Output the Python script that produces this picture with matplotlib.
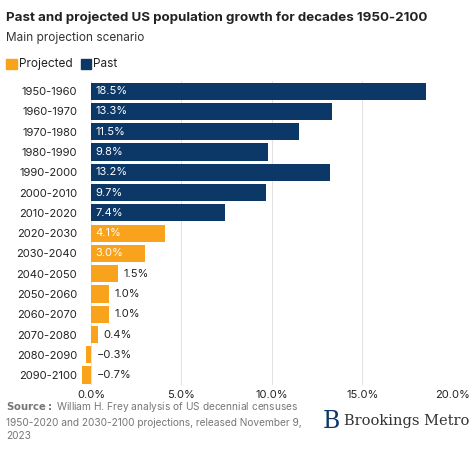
import matplotlib.pyplot as plt
from matplotlib.ticker import FuncFormatter

decades = ["1950-1960", "1960-1970", "1970-1980", "1980-1990", "1990-2000", "2000-2010",
           "2010-2020", "2020-2030", "2030-2040", "2040-2050", "2050-2060", "2060-2070",
           "2070-2080", "2080-2090", "2090-2100"]
growth = [18.5, 13.3, 11.5, 9.8, 13.2, 9.7, 7.4, 4.1, 3.0, 1.5, 1.0, 1.0, 0.4, -0.3, -0.7]
kind = ["Past"] * 7 + ["Projected"] * 8

NAVY = "#0b3866"
ORANGE = "#f9a21b"
TEXT = "#222222"

plt.rcParams["font.family"] = ["Inter", "DejaVu Sans"]
fig = plt.figure(figsize=(4.74, 4.63), dpi=100)
ax = fig.add_axes([0.173, 0.168, 0.782, 0.657])

ypos = list(range(len(decades)))
colors = [NAVY if k == "Past" else ORANGE for k in kind]
ax.barh(ypos, growth, height=0.85, color=colors)
for y, v in zip(ypos, growth):
    label = f"{v:.1f}%" if v >= 0 else f"\u2212{abs(v):.1f}%"
    if v >= 2.5:
        ax.text(0.25, y, label, va="center", ha="left", color="white", fontsize=8)
    else:
        ax.text(max(v, 0) + 0.3, y, label, va="center", ha="left", color=TEXT, fontsize=8)

ax.set_yticks(ypos)
ax.set_yticklabels(decades, fontsize=8, color=TEXT)
ax.set_ylim(len(decades) - 0.5, -0.5)
ax.set_xlim(-0.5, 20)
ax.set_xticks([0, 5, 10, 15, 20])
ax.xaxis.set_major_formatter(FuncFormatter(lambda x, _: f"{x:.1f}%"))
ax.tick_params(axis="x", labelsize=8, colors=TEXT, length=0)
ax.tick_params(axis="y", length=0)
ax.grid(axis="x", color="#dddddd", linewidth=0.6)
ax.set_axisbelow(True)
for s in ax.spines.values():
    s.set_visible(False)

fig.text(0.013, 0.975, "Past and projected US population growth for decades 1950-2100",
         fontsize=9.6, fontweight="bold", color=TEXT, va="top")
fig.text(0.013, 0.93, "Main projection scenario", fontsize=8.5, color="#333333", va="top")

# legend
fig.patches.append(plt.Rectangle((0.013, 0.85), 0.022, 0.023, color=ORANGE, transform=fig.transFigure))
fig.text(0.04, 0.861, "Projected", fontsize=8.5, color=TEXT, va="center")
fig.patches.append(plt.Rectangle((0.17, 0.85), 0.022, 0.023, color=NAVY, transform=fig.transFigure))
fig.text(0.197, 0.861, "Past", fontsize=8.5, color=TEXT, va="center")

fig.text(0.013, 0.135, r"$\bf{Source:}$ William H. Frey analysis of US decennial censuses" "\n"
         "1950-2020 and 2030-2100 projections, released November 9,\n2023",
         fontsize=7.3, color="#777777", va="top", linespacing=1.4)
fig.text(0.68, 0.09, "B", fontsize=17, color=NAVY, family="DejaVu Serif", va="center")
fig.text(0.725, 0.09, "Brookings Metro", fontsize=10.5, color="#333333",
         family="DejaVu Serif", va="center")

fig.savefig("out.png", dpi=100, facecolor="white")
